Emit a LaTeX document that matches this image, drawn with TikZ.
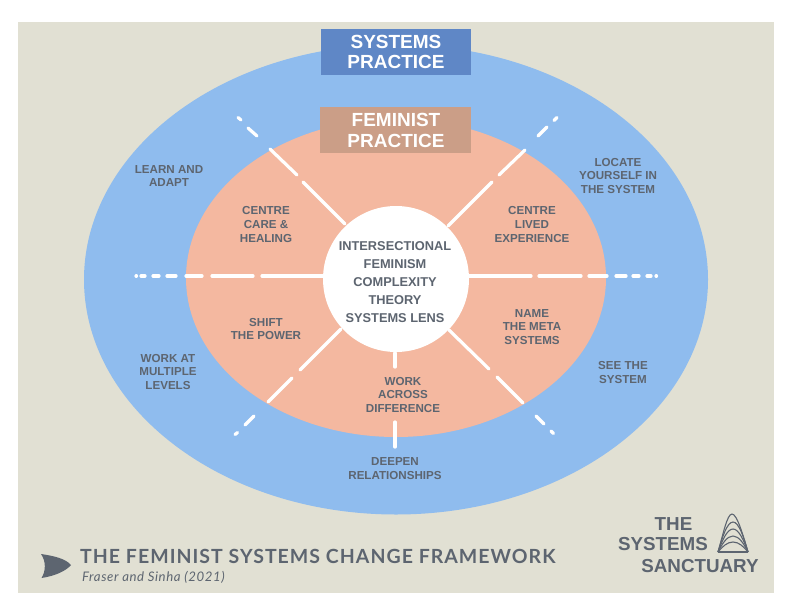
\documentclass[tikz,border=0pt]{standalone}
\usepackage{fontspec}
\setmainfont{Liberation Sans}
\newfontfamily\titlefont[LetterSpace=5.3]{Lato}
\newfontfamily\citefont[LetterSpace=4.5]{Lato}
\newfontfamily\logofont{Liberation Sans}
\definecolor{bgc}{HTML}{E1E0D3}
\definecolor{bluec}{HTML}{8FBCEE}
\definecolor{salmonc}{HTML}{F4B8A0}
\definecolor{sysbox}{HTML}{5F87C6}
\definecolor{fembox}{HTML}{CB9E87}
\definecolor{textc}{HTML}{5D6570}
\tikzset{
  x=1pt,y=-1pt,
  spoke/.style={draw=white,line width=3.2pt,line cap=round},
  lab/.style={text=textc,align=center,inner sep=0pt,font=\bfseries\fontsize{11.6}{13.9}\selectfont},
  hub/.style={text=textc,align=center,inner sep=0pt,font=\bfseries\fontsize{12.8}{18}\selectfont},
  banner/.style={text=white,align=center,inner sep=0pt,minimum width=150pt,minimum height=46pt,font=\bfseries\fontsize{19}{20.5}\selectfont},
  logotext/.style={text=textc,inner sep=0pt,font=\logofont\bfseries\fontsize{18.8}{20.5}\selectfont},
  arch/.style={draw=textc,line width=1.1pt,fill=none},
}
\begin{document}
\begin{tikzpicture}
\useasboundingbox (0,0) rectangle (792,613);
\fill[white] (0,0) rectangle (792,613);
\fill[bgc] (18,22) rectangle (774,593);
\fill[bluec] (396,279.5) ellipse [x radius=312,y radius=235];
\fill[salmonc] (396,278) ellipse [x radius=210,y radius=159];
\fill[white] (396,279) circle [radius=73];

% spokes: left
\foreach \a/\b in {136/136.5,141/145,153/159,167/176,186/202,212/253,262/323}
  \draw[spoke] (\a,276) -- (\b,276);
% spokes: right
\foreach \a/\b in {469/531,539/581,589/607,616/626,633/639,647/651,656/656.5}
  \draw[spoke] (\a,276) -- (\b,276);
% spokes: diagonals and vertical
\draw[spoke] (345,224) -- (303,182);
\draw[spoke] (297,175) -- (270,149);
\draw[spoke] (257,136) -- (248,128);
\draw[spoke] (241,120) -- (238,117.5);
\draw[spoke] (448,226) -- (492,182);
\draw[spoke] (499,175) -- (525,150);
\draw[spoke] (538,136) -- (547,127);
\draw[spoke] (554,120.5) -- (557,117.5);
\draw[spoke] (341,329) -- (300,370);
\draw[spoke] (292,378) -- (268,402);
\draw[spoke] (254,416) -- (245,425);
\draw[spoke] (237.5,432.5) -- (235,434.5);
\draw[spoke] (449,330) -- (489,369);
\draw[spoke] (497,377) -- (523,403);
\draw[spoke] (536,416) -- (544,424);
\draw[spoke] (551,431) -- (553.5,433.5);
\draw[spoke] (395,353) -- (395,367);
\draw[spoke] (395,422) -- (395,447);

\fill[sysbox] (321,29) rectangle (471,75);
\fill[fembox] (320,107) rectangle (471,153);
\node[banner] (sys) at (396,52) {SYSTEMS\\PRACTICE};
\node[banner] (fem) at (396,130.5) {FEMINIST\\PRACTICE};

\node[hub] (core) at (395,282) {INTERSECTIONAL\\FEMINISM\\COMPLEXITY\\THEORY\\SYSTEMS LENS};

\node[lab] (learn) at (169,176) {LEARN AND\\ADAPT};
\node[lab] (locate) at (618,176) {LOCATE\\YOURSELF IN\\THE SYSTEM};
\node[lab] (care) at (266,224.5) {CENTRE\\CARE \&\\HEALING};
\node[lab] (lived) at (532,224.5) {CENTRE\\LIVED\\EXPERIENCE};
\node[lab] (shift) at (266,329) {SHIFT\\THE POWER};
\node[lab] (meta) at (532,327) {NAME\\THE META\\SYSTEMS};
\node[lab] (levels) at (168,372) {WORK AT\\MULTIPLE\\LEVELS};
\node[lab] (see) at (623,372.5) {SEE THE\\SYSTEM};
\node[lab] (across) at (403,395) {WORK\\ACROSS\\DIFFERENCE};
\node[lab] (deepen) at (395,469) {DEEPEN\\RELATIONSHIPS};

% title
\fill[textc] (41,554) .. controls (55,556) and (66,559) .. (71,565)
  .. controls (66,571) and (55,576) .. (41.5,578)
  .. controls (46,571) and (46,561) .. (41,554) -- cycle;
\node[anchor=west,text=textc,inner sep=0pt,font=\titlefont\bfseries\fontsize{19.5}{20}\selectfont] (title) at (80,556) {THE FEMINIST SYSTEMS CHANGE FRAMEWORK};
\node[anchor=west,text=textc,inner sep=0pt,font=\citefont\itshape\fontsize{13.2}{14}\selectfont] (cite) at (82,577) {Fraser and Sinha (2021)};

% logo
\node[logotext] (the) at (673.5,524) {THE};
\node[logotext] (systems) at (663,544) {SYSTEMS};
\node[logotext] (sanctuary) at (700,566) {SANCTUARY};
\draw[arch] (718,552) .. controls (723,535) and (727,514) .. (732,514) .. controls (737,514) and (743,535) .. (748,552);
\draw[arch] (718,552) .. controls (722,538) and (727,522) .. (733,522) .. controls (739,522) and (744,538) .. (748,552);
\draw[arch] (718,552) .. controls (722,541) and (727,529) .. (733,529) .. controls (739,529) and (744,541) .. (748,552);
\draw[arch] (718,552) .. controls (722,544) and (727,536) .. (733,536) .. controls (739,536) and (744,544) .. (748,552);
\draw[arch] (718,552) .. controls (722,547) and (727,542) .. (733,542) .. controls (739,542) and (744,547) .. (748,552);
\draw[arch] (718,552) -- (748,552);
\end{tikzpicture}
\end{document}
